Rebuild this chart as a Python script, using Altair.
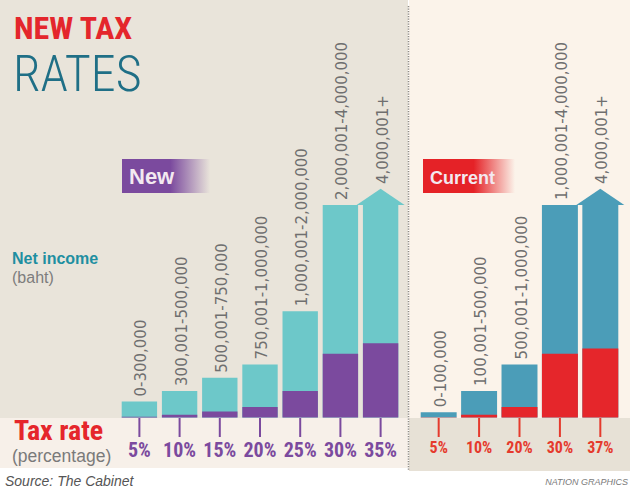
import altair as alt
import pandas as pd

# Proposed brackets (net income, baht) and their rates
new_brackets = ["0-300,000", "300,001-500,000", "500,001-750,000", "750,001-1,000,000",
                "1,000,001-2,000,000", "2,000,001-4,000,000", "4,000,001+"]
new_rates = ["5%", "10%", "15%", "20%", "25%", "30%", "35%"]
new_income_top = [300000, 500000, 750000, 1000000, 2000000, 4000000, 4000000]
new_tax = [15000, 50000, 112500, 200000, 500000, 1200000, 1400000]

# Current brackets and rates
cur_brackets = ["0-100,000", "100,001-500,000", "500,001-1,000,000",
                "1,000,001-4,000,000", "4,000,001+"]
cur_rates = ["5%", "10%", "20%", "30%", "37%"]
cur_income_top = [100000, 500000, 1000000, 4000000, 4000000]
cur_tax = [5000, 50000, 200000, 1200000, 1300000]

W, H = 630, 491
BG_L, BAND_L = "#e9e4da", "#f7f0e9"
BG_R, BAND_R = "#fbf3ea", "#e7e1d6"
TEAL, PURPLE = "#6dc8c9", "#7b4a9e"
BLUE, RED = "#4b9db8", "#e5262b"
GREY = "#6f6f6f"
COND = "Roboto Condensed"


def frame(brackets, rates, tops, tax):
    return pd.DataFrame({
        "bracket": brackets, "rate": rates, "income": tops, "tax": tax,
        "open": [b.endswith("+") for b in brackets],
    })


new_df = frame(new_brackets, new_rates, new_income_top, new_tax)
cur_df = frame(cur_brackets, cur_rates, cur_income_top, cur_tax)

yscale = alt.Scale(domain=[0, 4000000], range=[417.5, 205])
blank = alt.Data(values=[{}])


def box(x0, x1, y0, y1, color):
    return alt.Chart(blank).mark_rect(color=color).encode(
        x=alt.value(x0), x2=alt.value(x1), y=alt.value(y0), y2=alt.value(y1))


def note(text, x, y, size, color, font="Liberation Sans", weight="normal",
         style="normal", align="left"):
    return alt.Chart(blank).mark_text(
        text=text, font=font, fontSize=size, color=color, fontWeight=weight,
        fontStyle=style, align=align, baseline="alphabetic").encode(
        x=alt.value(x), y=alt.value(y))


def panel(df, xrange, pad, fill, tax_color, rate_color, rate_size, arrow_w):
    x = alt.X("bracket:N", sort=list(df["bracket"]), axis=None,
              scale=alt.Scale(range=xrange, paddingInner=pad, paddingOuter=0))
    y_income = alt.Y("income:Q", scale=yscale, axis=None)
    base = alt.Chart(df)
    income = base.mark_bar(color=fill).encode(x=x, y=y_income, y2=alt.datum(0))
    tax = base.mark_bar(color=tax_color).encode(
        x=x, y=alt.Y("tax:Q", scale=yscale, axis=None), y2=alt.datum(0))
    # open-ended top bracket gets an arrowhead
    arrow = base.transform_filter("datum.open").mark_point(
        shape="M-1,0L0,-0.68L1,0Z", filled=True, opacity=1, color=fill,
        size=arrow_w ** 2).encode(x=x, y=y_income)
    label_style = dict(angle=270, align="left", baseline="middle",
                       font="DejaVu Sans", fontSize=15, color=GREY, dy=2)
    labels = base.transform_filter("!datum.open").mark_text(dx=5, **label_style).encode(
        x=x, y=y_income, text="bracket:N")
    labels_open = base.transform_filter("datum.open").mark_text(dx=21, **label_style).encode(
        x=x, y=y_income, text="bracket:N")
    ticks = base.mark_rule(color=rate_color, strokeWidth=2).encode(
        x=x, y=alt.value(418), y2=alt.value(437))
    rates = base.mark_text(font=COND, fontWeight="bold", fontSize=rate_size,
                           color=rate_color, baseline="alphabetic").encode(
        x=x, y=alt.value(457 if rate_size > 17 else 453), text="rate:N")
    return alt.layer(income, tax, arrow, labels, labels_open, ticks, rates)


def tag(text, x0, x1, color, size):
    grad = alt.Gradient(gradient="linear", x1=0, x2=1, y1=0, y2=0, stops=[
        alt.GradientStop(offset=0, color=color),
        alt.GradientStop(offset=0.55, color=color),
        alt.GradientStop(offset=1, color=color + "00"),
    ])
    rect = alt.Chart(blank).mark_rect(fill=grad).encode(
        x=alt.value(x0), x2=alt.value(x1), y=alt.value(159), y2=alt.value(193))
    return alt.layer(rect, note(text, x0 + 7, 184, size, "#f3e9f0",
                                weight="bold"))


backdrop = alt.layer(
    box(0, 408, 0, 418, BG_L),
    box(0, 408, 418, 468, BAND_L),
    box(409, W, 0, 418, BG_R),
    box(409, W, 418, 471, BAND_R),
    alt.Chart(blank).mark_rule(color="#8e8a84", strokeWidth=1.5, strokeDash=[1.2, 1.3]).encode(
        x=alt.value(408.5), y=alt.value(6), y2=alt.value(470)),
)

texts = alt.layer(
    note("NEW TAX", 14, 39, 32, "#e4262c", font=COND, weight="bold"),
    note("RATES", 13, 91, 50, "#1f6f86", font=COND, weight=300),
    note("Net income", 12, 264, 16, "#1e8fa1", weight="bold"),
    note("(baht)", 12, 283, 16, "#7d7d7d"),
    note("Tax rate", 14, 440, 28, "#e5262b", font=COND, weight="bold"),
    note("(percentage)", 12, 462, 17.5, "#7a7a7a"),
    note("Source: The Cabinet", 5, 486, 14, "#555555", style="italic"),
    note("NATION GRAPHICS", 628, 485, 9, "#7a7a7a", style="italic", align="right"),
    tag("New", 122, 210, PURPLE, 22),
    tag("Current", 423, 515, "#e52227", 18),
)

left = panel(new_df, [121.7, 398.3], 0.12, TEAL, PURPLE, PURPLE, 20, 48)
right = panel(cur_df, [420.7, 618.3], 0.11, BLUE, RED, "#e53a2d", 16, 48)

chart = alt.layer(backdrop, texts, left, right).resolve_scale(x="independent").properties(
    width=W, height=H, autosize=alt.AutoSizeParams(type="none"), padding=0,
    background="white",
).configure_view(strokeWidth=0)

chart.save("out.html", embed_options={"renderer": "svg", "actions": False})
